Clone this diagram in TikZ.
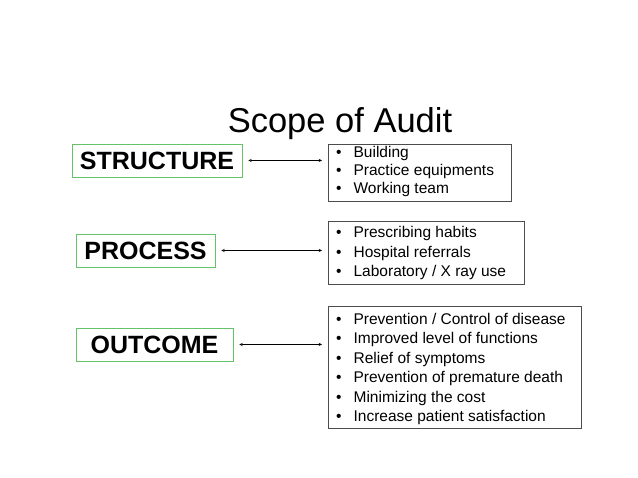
\documentclass[tikz,border=0pt]{standalone}
\usepackage{fontspec}
\setmainfont{Liberation Sans}
\begin{document}
\begin{tikzpicture}[x=1pt,y=-1pt,
  lbox/.style={draw=green!60!black!60, line width=0.8pt, inner sep=0pt, font=\fontsize{25}{25}\selectfont\bfseries},
  rbox/.style={draw=black!70, line width=0.8pt, inner sep=0pt},
  lst/.style={anchor=north west, inner sep=0pt, align=left, font=\fontsize{15.5}{19.5}\selectfont},
  arr/.style={<->, >=stealth, line width=0.5pt}]
\useasboundingbox (0,0) rectangle (638,478);
\node (title) at (340,124) {\fontsize{34.5}{34.5}\selectfont Scope of Audit};
\node[lbox, minimum width=170, minimum height=33] (s) at (157,160.5) {STRUCTURE};
\node[lbox, minimum width=139, minimum height=33] (p) at (145.5,250.5) {PROCESS};
\node[lbox, minimum width=157, minimum height=33] (o) at (154.5,344.5) {OUTCOME};
\node[rbox, minimum width=183, minimum height=57] (b1) at (419.5,172.5) {};
\node[rbox, minimum width=196, minimum height=63] (b2) at (426,252.5) {};
\node[rbox, minimum width=253, minimum height=122] (b3) at (454.5,367) {};
\node[lst, font=\fontsize{15.5}{18}\selectfont] (l1) at (336,146) {•\hspace{12pt}Building\\•\hspace{12pt}Practice equipments\\•\hspace{12pt}Working team};
\node[lst] (l2) at (336,226.5) {•\hspace{12pt}Prescribing habits\\•\hspace{12pt}Hospital referrals\\•\hspace{12pt}Laboratory / X ray use};
\node[lst] (l3) at (336,313) {•\hspace{12pt}Prevention / Control of disease\\•\hspace{12pt}Improved level of functions\\•\hspace{12pt}Relief of symptoms\\•\hspace{12pt}Prevention of premature death\\•\hspace{12pt}Minimizing the cost\\•\hspace{12pt}Increase patient satisfaction};
\coordinate (e1) at (322,160.5);
\coordinate (e2) at (322,250.5);
\coordinate (e3) at (322,344.5);
\draw[arr] ([xshift=6pt]s.east) -- (e1);
\draw[arr] ([xshift=6pt]p.east) -- (e2);
\draw[arr] ([xshift=6pt]o.east) -- (e3);
\end{tikzpicture}
\end{document}
